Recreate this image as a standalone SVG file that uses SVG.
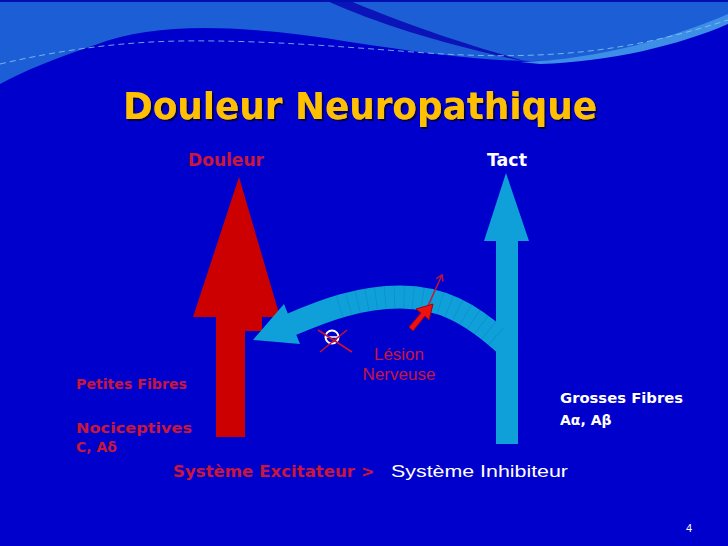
<svg xmlns="http://www.w3.org/2000/svg" width="728" height="546" viewBox="0 0 728 546">
<style>
.red{fill:#C8163C}
.wht{fill:#FFFFFF}
.lbl{font-family:"DejaVu Sans","Liberation Sans",sans-serif;font-weight:bold}
.sans{font-family:"Liberation Sans",Arial,sans-serif}
.cyan{fill:#0FA0DA}
</style>
<defs>
<marker id="thin" markerWidth="8" markerHeight="8" refX="6" refY="4" orient="auto" markerUnits="userSpaceOnUse">
<path d="M0,0 L6,4 L0,8" fill="none" stroke="#D01030" stroke-width="1.4"/>
</marker>
<filter id="shadow" x="-5%" y="-20%" width="110%" height="140%">
<feDropShadow dx="2" dy="2" stdDeviation="0.4" flood-color="#000050" flood-opacity="1"/>
</filter>
</defs>
<rect x="0" y="0" width="728" height="546" fill="#0000CC"/>
<g id="background-waves">
<path d="M0,0 H728 V20 C690,32 640,52 560,60 C500,64 430,54 350,42 C250,26 160,20 95,45 C55,58 22,72 0,84 Z" fill="#1C5ED6"/>
<path d="M520,62 C600,60 680,35 728,14 V24 C680,45 610,62 540,64 Z" fill="#3D8EE6"/>
<path d="M325,0 C380,25 450,46 528,62 C450,40 395,20 348,0 Z" fill="#0A14B8"/>
<path d="M0,64 C60,50 120,42 180,41 C260,40 330,46 400,51 C460,56 520,58 580,52 C640,46 690,32 728,20" fill="none" stroke="#8FC8F5" stroke-width="1" stroke-dasharray="6 4" opacity="0.8"/>
<rect x="0" y="0" width="728" height="2" fill="#0010B0"/>
</g>
<g id="title">
<text x="123" y="119" font-family="'DejaVu Sans',Verdana,sans-serif" font-weight="bold" font-size="38" fill="#FFC000" textLength="474" lengthAdjust="spacingAndGlyphs" filter="url(#shadow)">Douleur Neuropathique</text>
</g>
<g id="douleur-arrow">
<polygon points="239,177 280,317 193,317" fill="#CC0000"/>
<rect x="216" y="316" width="46" height="15" fill="#CC0000"/>
<rect x="216" y="330" width="29" height="107" fill="#CC0000"/>
<text class="lbl red" x="188" y="166" style="font-size:17px" textLength="76" lengthAdjust="spacingAndGlyphs">Douleur</text>
</g>
<g id="tact-arrow">
<polygon points="506,173 529,241 484,241" class="cyan"/>
<rect x="496" y="240" width="22" height="204" class="cyan"/>
<text class="lbl wht" x="487" y="166" style="font-size:17px" textLength="40" lengthAdjust="spacingAndGlyphs">Tact</text>
</g>
<g id="connectors">
<path d="M507,346 C470,312 440,297 400,297 C360,297 325,310 290,325" fill="none" stroke="#0FA0DA" stroke-width="23"/>
<path d="M496,337 C468,312 440,297 400,297 C375,297 355,302 335,309" fill="none" stroke="#0A6AB0" stroke-width="23" stroke-dasharray="0.8 8.5" opacity="0.3"/>
<polygon points="253,340 284,304 300,344" class="cyan"/>
<line x1="427" y1="308" x2="442" y2="275" stroke="#D01030" stroke-width="1.4" marker-end="url(#thin)"/>
</g>
<g id="lesion">
<path d="M409,327 L421,313 L416,309 L433,304 L429,320 L425,316 L413,331 Z" fill="#EE1111" stroke="#A00010" stroke-width="1"/>
<text class="sans red" x="399" y="360" font-size="17" text-anchor="middle">Lésion</text>
<text class="sans red" x="399" y="380" font-size="17" text-anchor="middle">Nerveuse</text>
</g>
<g id="inhibition">
<circle cx="332" cy="337" r="6.5" fill="#0000CC" stroke="#FFFFFF" stroke-width="2"/>
<line x1="326" y1="337" x2="338" y2="337" stroke="#FFFFFF" stroke-width="1.5"/>
<line x1="318" y1="330" x2="352" y2="352" stroke="#D01030" stroke-width="1.5"/>
<line x1="320" y1="352" x2="347" y2="330" stroke="#D01030" stroke-width="1.5"/>
</g>
<g id="petites-fibres">
<text class="lbl red" x="76" y="389" style="font-size:14px" textLength="111" lengthAdjust="spacingAndGlyphs">Petites Fibres</text>
<text class="lbl red" x="76" y="433" style="font-size:14px" textLength="116" lengthAdjust="spacingAndGlyphs">Nociceptives</text>
<text class="lbl red" x="76" y="452" style="font-size:14px">C, Aδ</text>
</g>
<g id="grosses-fibres">
<text class="lbl wht" x="560" y="403" style="font-size:14px" textLength="123" lengthAdjust="spacingAndGlyphs">Grosses Fibres</text>
<text class="lbl wht" x="560" y="425" style="font-size:14px">Aα, Aβ</text>
</g>
<g id="bottom-line">
<text class="lbl red" x="173" y="477" style="font-size:16px" textLength="182" lengthAdjust="spacingAndGlyphs">Système Excitateur</text>
<text class="lbl red" x="361" y="477" style="font-size:16px">&gt;</text>
<text class="sans wht" x="391" y="477" font-size="17" textLength="177" lengthAdjust="spacingAndGlyphs">Système Inhibiteur</text>
</g>
<text class="sans wht" x="686" y="532" font-size="11">4</text>
</svg>
